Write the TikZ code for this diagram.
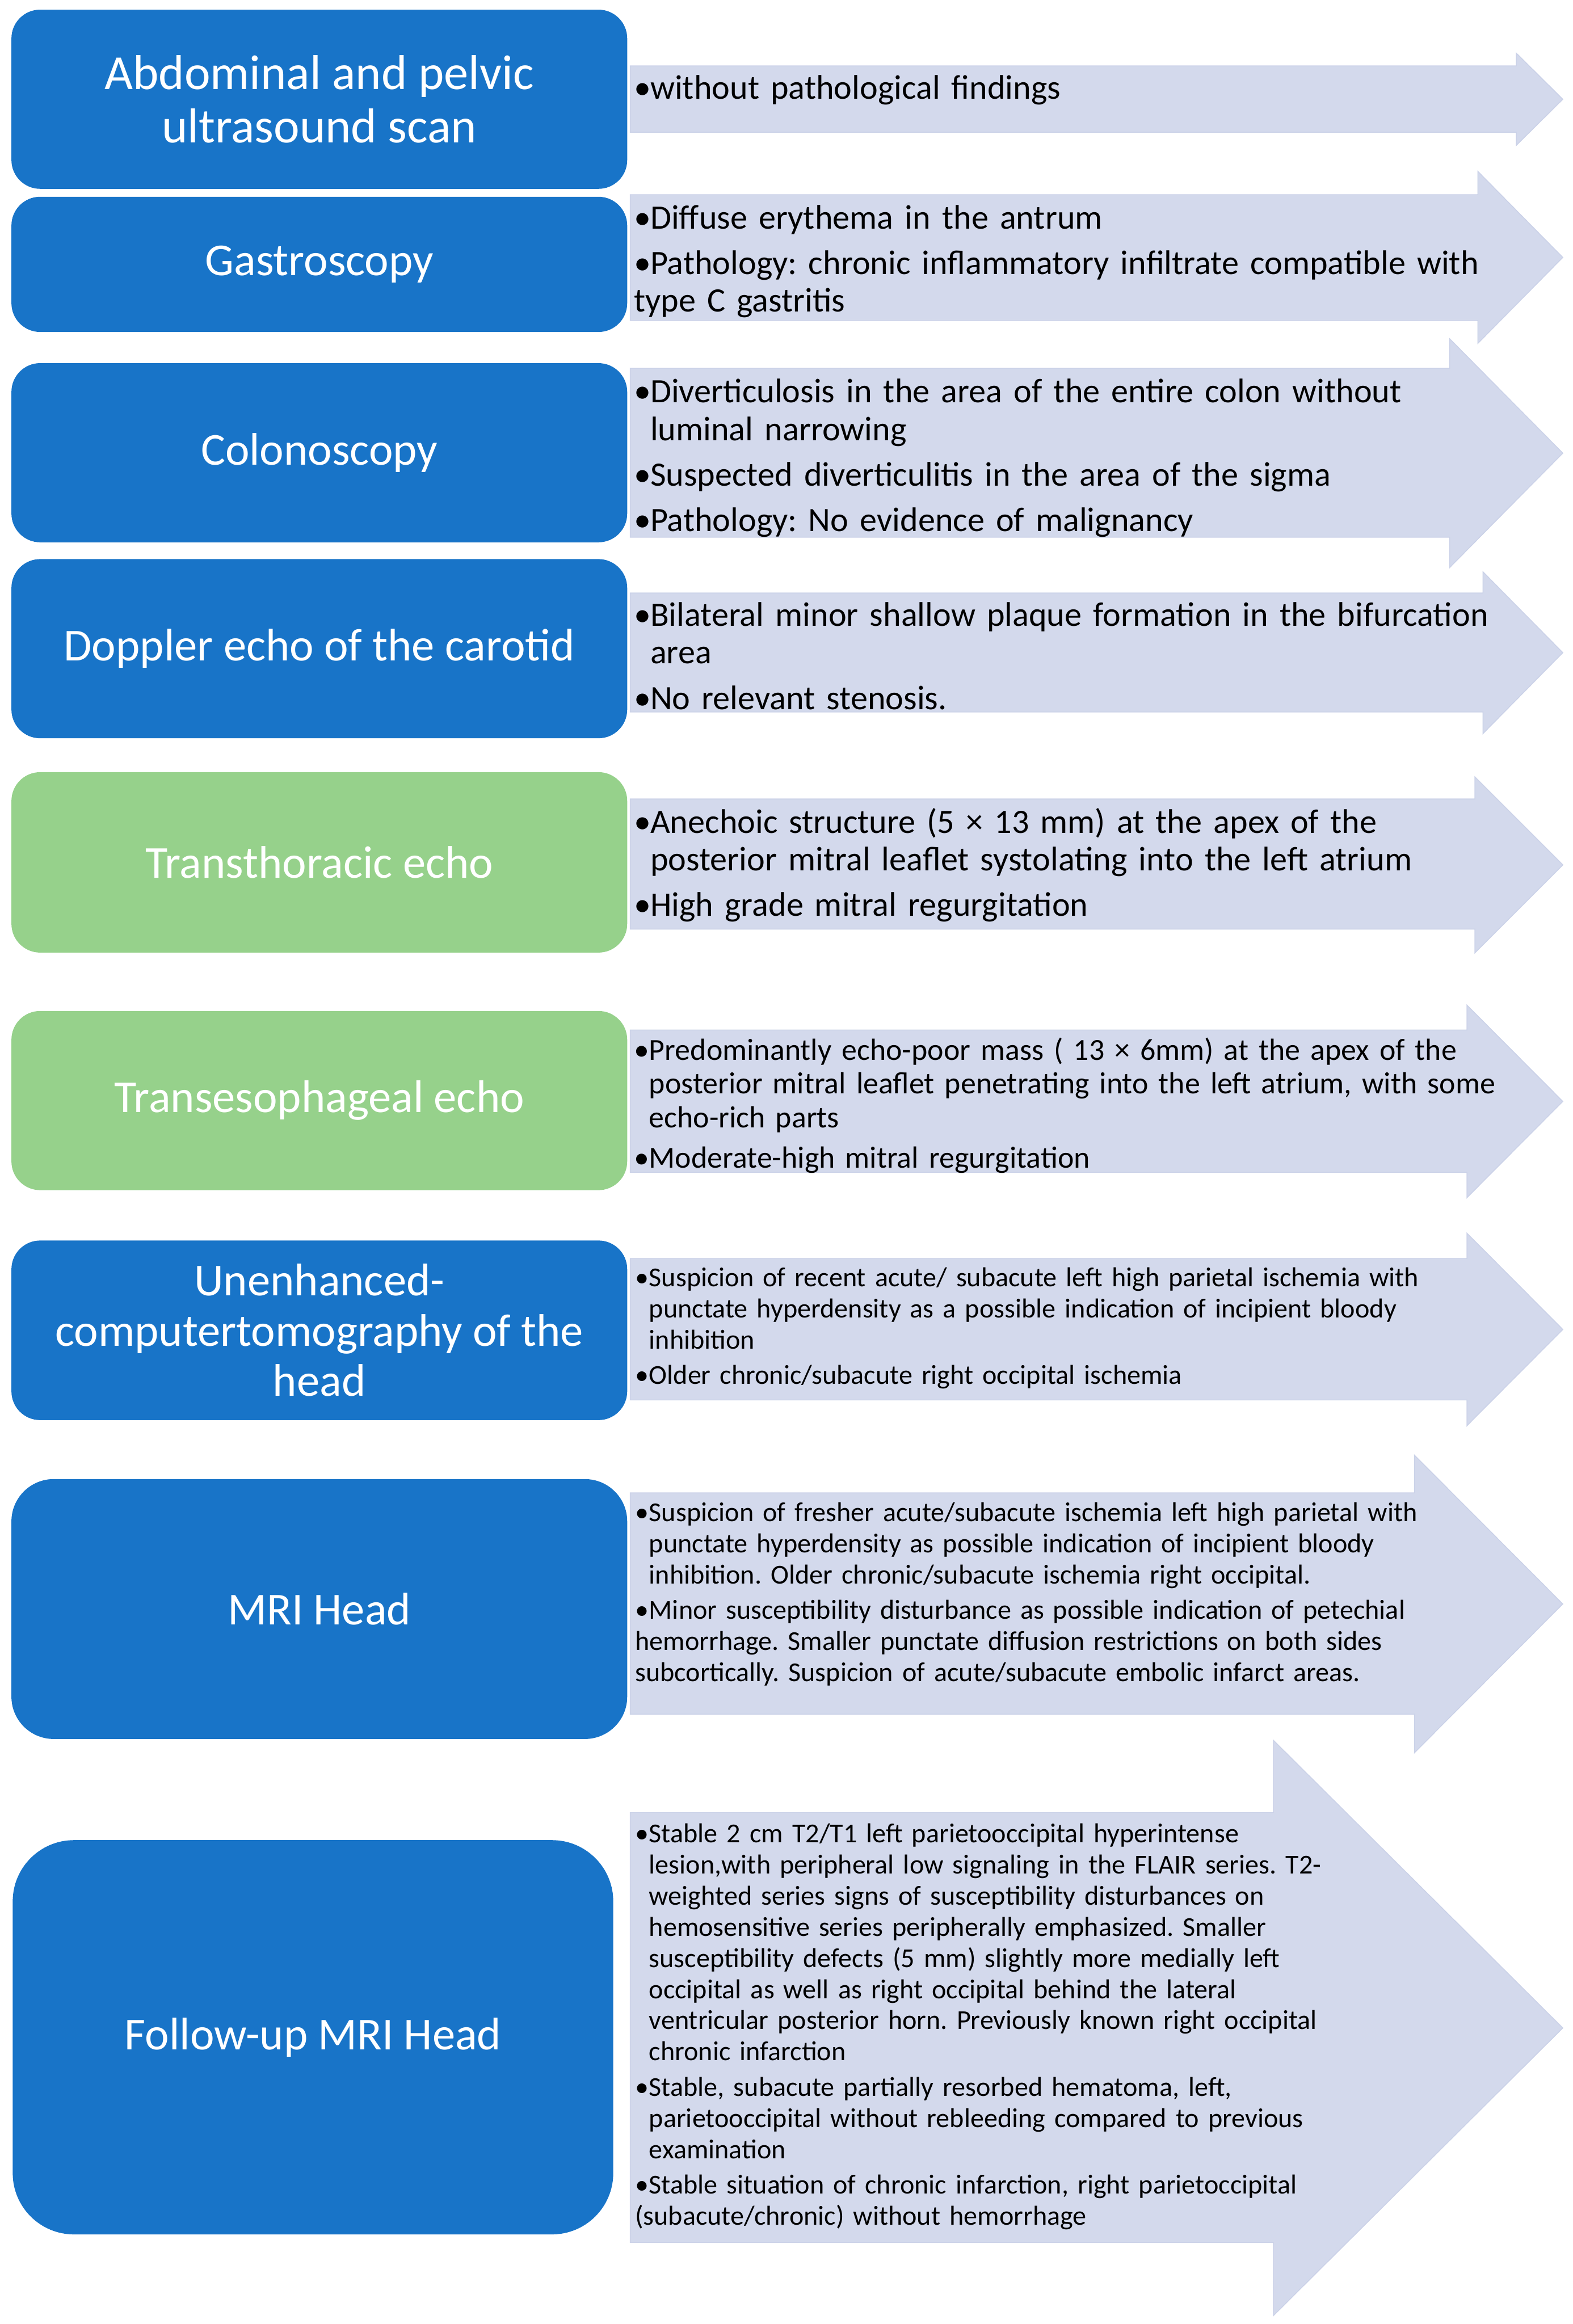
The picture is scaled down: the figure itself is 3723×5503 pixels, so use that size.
\documentclass[tikz,border=0pt]{standalone}
\usepackage{fontspec}
\setmainfont{Carlito}
\frenchspacing

\definecolor{examblue}{HTML}{1874C8}
\definecolor{examgreen}{HTML}{96D18B}
\definecolor{arrowfill}{HTML}{D3D9EC}
\definecolor{arrowedge}{HTML}{CBD2E8}

\newlength{\bw}
\newlength{\pgap}
% one bullet of a finding, hanging indent for the wrapped lines
\newcommand{\itm}[1]{\par\hangindent=\bw\hangafter=1\noindent\makebox[\bw][l]{\strut\textbullet}#1}
\newcommand{\nitm}[1]{\par\vspace{\pgap}\itm{#1}}
% big arrow behind the findings: body top, body bottom, head top, head bottom, head base
\newcommand{\findarrow}[5]{%
  \filldraw[fill=arrowfill, draw=arrowedge, line width=0.6pt]
    (1492,#1) -- (#5,#1) -- (#5,#3) -- (3700,{(#3+#4)/2}) -- (#5,#4) -- (#5,#2) -- (1492,#2) -- cycle;}

\begin{document}
\begin{tikzpicture}[x=0.01cm, y=-0.01cm]
\tikzset{exam/.style={rounded corners=0.68cm, minimum width=14.57cm, minimum height=4.24cm, inner sep=0pt,
    text=white, align=center, font=\fontsize{30.8}{33.8}\selectfont},
  finding/.style={anchor=north west, inner sep=0pt, text width=21.5cm, align=left,
    font={\fontsize{23}{25.3}\selectfont\setlength{\bw}{3.9mm}\setlength{\pgap}{5.4pt}}},
  findsmall/.style={finding, font={\fontsize{20.6}{22.8}\selectfont\setlength{\bw}{3.6mm}\setlength{\pgap}{4.5pt}}},
  findtiny/.style={finding, font={\fontsize{18.4}{21}\selectfont\setlength{\bw}{3.3mm}\setlength{\pgap}{2.8pt}}}}

\useasboundingbox[fill=white] (0,0) rectangle (3723,5503);

% arrows
\findarrow{156}{313}{126}{344}{3590}
\findarrow{461}{759}{406}{813}{3499}
\findarrow{872}{1272}{802}{1344}{3432}
\findarrow{1404}{1686}{1354}{1737}{3511}
\findarrow{1892}{2200}{1840}{2256}{3492}
\findarrow{2439}{2776}{2380}{2836}{3473}
\findarrow{2980}{3315}{2920}{3376}{3473}
\findarrow{3535}{4059}{3446}{4150}{3349}
\findarrow{4292}{5310}{4121}{5483}{3015}

% examinations
\node[exam, fill=examblue, font=\fontsize{33}{36.2}\selectfont] (abdo) at (756,235) {Abdominal and pelvic\\ultrasound scan};
\node[exam, fill=examblue, minimum height=3.2cm] (gastro) at (756,626) {Gastroscopy};
\node[exam, fill=examblue] (colono) at (756,1072) {Colonoscopy};
\node[exam, fill=examblue] (doppler) at (756,1536) {Doppler echo of the carotid};
\node[exam, fill=examgreen, minimum height=4.27cm] (tte) at (756,2042) {Transthoracic echo};
\node[exam, fill=examgreen] (tee) at (756,2606) {Transesophageal echo};
\node[exam, fill=examblue, minimum height=4.25cm] (ct) at (756,3150) {Unenhanced-\\computertomography of the\\head};
\node[exam, fill=examblue, minimum height=6.15cm, rounded corners=1cm] (mri) at (756,3810) {MRI Head};
\node[exam, fill=examblue, minimum width=14.21cm, minimum height=9.33cm, rounded corners=1.45cm] (mrifu) at (741,4824) {Follow-up MRI Head};

% findings
\node[finding] (abdotxt) at (1500,145) {\itm{without pathological findings}};
\node[finding] (gastrotxt) at (1500,452) {\itm{Diffuse erythema in the antrum}
  \nitm{Pathology: chronic inflammatory infiltrate compatible with\newline type C gastritis}};
\node[finding] (colonotxt) at (1500,864) {\itm{Diverticulosis in the area of the entire colon without\newline luminal narrowing}
  \nitm{Suspected diverticulitis in the area of the sigma}
  \nitm{Pathology: No evidence of malignancy}};
\node[finding] (dopplertxt) at (1500,1393) {\itm{Bilateral minor shallow plaque formation in the bifurcation\newline area}
  \nitm{No relevant stenosis.}};
\node[finding] (ttetxt) at (1500,1883) {\itm{Anechoic structure (5 × 13 mm) at the apex of the\newline posterior mitral leaflet systolating into the left atrium}
  \nitm{High grade mitral regurgitation}};
\node[findsmall] (teetxt) at (1500,2429) {\itm{Predominantly echo-poor mass ( 13 × 6mm) at the apex of the\newline posterior mitral leaflet penetrating into the left atrium, with some\newline echo-rich parts}
  \nitm{Moderate-high mitral regurgitation}};
\node[findtiny] (cttxt) at (1503,2972) {\itm{Suspicion of recent acute/ subacute left high parietal ischemia with\newline punctate hyperdensity as a possible indication of incipient bloody\newline inhibition}
  \nitm{Older chronic/subacute right occipital ischemia}};
\node[findtiny] (mritxt) at (1503,3528) {\itm{Suspicion of fresher acute/subacute ischemia left high parietal with\newline punctate hyperdensity as possible indication of incipient bloody\newline inhibition. Older chronic/subacute ischemia right occipital.}
  \nitm{Minor susceptibility disturbance as possible indication of petechial\newline hemorrhage. Smaller punctate diffusion restrictions on both sides\newline subcortically. Suspicion of acute/subacute embolic infarct areas.}};
\node[findtiny] (mrifutxt) at (1503,4288) {\itm{Stable 2 cm T2/T1 left parietooccipital hyperintense\newline lesion,with peripheral low signaling in the FLAIR series. T2-\newline weighted series signs of susceptibility disturbances on\newline hemosensitive series peripherally emphasized. Smaller\newline susceptibility defects (5 mm) slightly more medially left\newline occipital as well as right occipital behind the lateral\newline ventricular posterior horn. Previously known right occipital\newline chronic infarction}
  \nitm{Stable, subacute partially resorbed hematoma, left,\newline parietooccipital without rebleeding compared to previous\newline examination}
  \nitm{Stable situation of chronic infarction, right parietoccipital\newline (subacute/chronic) without hemorrhage}};
\end{tikzpicture}
\end{document}
